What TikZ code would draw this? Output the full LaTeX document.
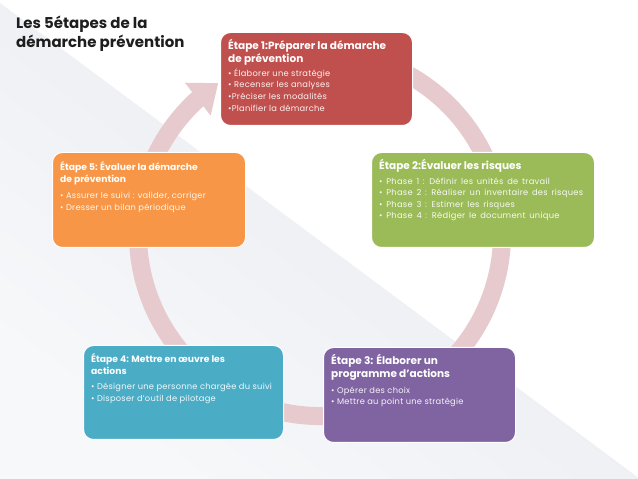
\documentclass[tikz,border=0pt]{standalone}
\usepackage{fontspec}
\setmainfont{Poppins}
\newfontfamily\widefont{Poppins}[WordSpace=1.5, LetterSpace=3.5]
\newfontfamily\bulfont{Poppins}[LetterSpace=3]
\usetikzlibrary{arrows.meta,bending}
\definecolor{cred}{HTML}{C0504D}
\definecolor{cgreen}{HTML}{9BBB59}
\definecolor{corange}{HTML}{F79646}
\definecolor{cblue}{HTML}{4BACC6}
\definecolor{cpurple}{HTML}{8064A2}
\definecolor{cring}{HTML}{E6CACD}
\definecolor{bgA}{HTML}{E6E9EF}
\definecolor{bgB}{HTML}{F7F8FA}
\definecolor{ctitle}{HTML}{1E1E1E}
\begin{document}
\begin{tikzpicture}[x=1pt,y=1pt,
  stepbox/.style={draw=white, line width=1pt, rounded corners=10pt, anchor=north west, inner sep=0pt},
  headtext/.style={anchor=north west, inner sep=0pt, text=white, font=\bfseries\fontsize{10.5}{12.8}\selectfont, align=left},
  headsmall/.style={headtext, font=\bfseries\fontsize{9.2}{12.8}\selectfont},
  bultext/.style={anchor=north west, inner sep=0pt, text=white, text opacity=0.92, font=\bulfont\fontsize{8.3}{11.8}\selectfont, align=left},
  bulwide/.style={bultext, font=\widefont\fontsize{8.3}{11.5}\selectfont},
  ring/.style={draw=cring, line width=18pt}
]
\useasboundingbox (0,0) rectangle (638,479);
\fill[white] (0,0) rectangle (638,479);
\shade[top color=bgA, bottom color=bgB, shading angle=-37] (0,476) -- (0,0) -- (640,0) -- cycle;
\coordinate (c) at (320,245);
\draw[ring, -{Triangle[width=40pt,length=26pt]}] ([shift={(70:182)}]c) arc[start angle=70, end angle=-236, radius=182];

\node[stepbox, fill=cred, minimum width=192pt, minimum height=93pt] (b1) at (220,447) {};
\node[headtext] (h1) at ([shift={(8,-7)}]b1.north west) {Étape 1:Préparer la démarche\\de prévention};
\node[bultext] (l1) at ([yshift=-3pt]h1.south west) {• Élaborer une stratégie\\• Recenser les analyses\\•Préciser les modalités\\•Planifier la démarche};

\node[stepbox, fill=cgreen, minimum width=223pt, minimum height=95pt] (b2) at (371,327) {};
\node[headtext] (h2) at ([shift={(8,-7)}]b2.north west) {Étape 2:Évaluer les risques};
\node[bulwide] (l2) at ([yshift=-5pt]h2.south west) {• Phase 1 : Définir les unités de travail\\• Phase 2 : Réaliser un inventaire des risques\\• Phase 3 : Estimer les risques\\• Phase 4 : Rédiger le document unique};

\node[stepbox, fill=cpurple, minimum width=192pt, minimum height=95pt] (b3) at (323,132) {};
\node[headtext] (h3) at ([shift={(8,-7)}]b3.north west) {Étape 3: Élaborer un\\programme d’actions};
\node[bultext] (l3) at ([yshift=-6pt]h3.south west) {• Opérer des choix\\• Mettre au point une stratégie};

\node[stepbox, fill=cblue, minimum width=200pt, minimum height=94pt] (b4) at (83,134) {};
\node[headsmall] (h4) at ([shift={(8,-8)}]b4.north west) {Étape 4: Mettre en œuvre les\\actions};
\node[bultext] (l4) at ([yshift=-7.5pt]h4.south west) {• Désigner une personne chargée du suivi\\• Disposer d’outil de pilotage};

\node[stepbox, fill=corange, minimum width=193pt, minimum height=95pt] (b5) at (52,327) {};
\node[headsmall] (h5) at ([shift={(8,-9)}]b5.north west) {Étape 5: Évaluer la démarche\\de prévention};
\node[bultext] (l5) at ([yshift=-6.5pt]h5.south west) {• Assurer le suivi : valider, corriger\\• Dresser un bilan périodique};

\node[anchor=north west, inner sep=0pt, text=ctitle, font=\bfseries\fontsize{15}{19}\selectfont, align=left] (title) at (16,463) {Les 5étapes de la\\démarche prévention};
\end{tikzpicture}
\end{document}
